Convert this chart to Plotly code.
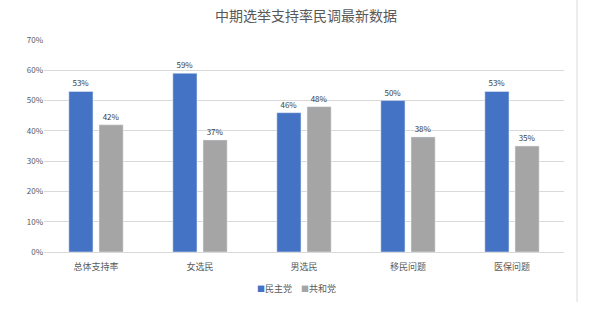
import plotly.graph_objects as go

categories = ["总体支持率", "女选民", "男选民", "移民问题", "医保问题"]
dem_values = [53, 59, 46, 50, 53]
rep_values = [42, 37, 48, 38, 35]
series_names = ["民主党", "共和党"]
series_colors = ["#4472C4", "#A5A5A5"]
y_ticks = [0, 10, 20, 30, 40, 50, 60, 70]
y_tick_labels = [f"{v}%" for v in y_ticks]

FONT = "Noto Sans CJK SC, Noto Sans, sans-serif"

fig = go.Figure()
for name, vals, col in zip(series_names, [dem_values, rep_values], series_colors):
    fig.add_trace(go.Bar(
        x=categories, y=vals, name=name,
        marker=dict(color=col),
        text=[f"{v}%" for v in vals], textposition="outside",
        textfont=dict(size=8, color="#404040", family=FONT),
        cliponaxis=False,
    ))

fig.update_layout(
    width=612, height=329,
    margin=dict(l=44, r=48, t=40, b=77),
    paper_bgcolor="white", plot_bgcolor="white",
    font=dict(family=FONT, color="#595959", size=9),
    title=dict(text="中期选举支持率民调最新数据", x=0.5, xanchor="center",
               y=0.952, yanchor="middle",
               font=dict(size=14, color="#595959", family=FONT)),
    barmode="group", bargap=0.42, bargroupgap=0.2,
    showlegend=False,
    uniformtext=dict(minsize=8, mode="show"),
)
fig.update_xaxes(showline=True, linecolor="#d9d9d9", linewidth=1,
                 ticks="", ticklabelstandoff=6, tickfont=dict(size=9, color="#595959"))
fig.update_yaxes(range=[0, 70], tickvals=y_ticks, ticktext=y_tick_labels,
                 showgrid=True, gridcolor="#d9d9d9", gridwidth=1,
                 zeroline=False, ticks="", ticklen=0,
                 tickfont=dict(size=8, color="#595959"))

# compact legend like the reference
legend_text = "\u2003".join(
    f'<span style="color:{c};font-size:8px">■</span>{n}'
    for n, c in zip(series_names, series_colors)
)
fig.add_annotation(text=legend_text, xref="paper", yref="paper",
                   x=0.485, y=-0.17, xanchor="center", yanchor="middle",
                   showarrow=False, font=dict(size=9, color="#595959", family=FONT))

# decorative chart border line at right, as in reference screenshot
fig.add_shape(type="line", xref="paper", yref="paper",
              x0=1.025, x1=1.025, y0=-0.235, y1=1.19,
              line=dict(color="#d9d9d9", width=1))

fig.write_html("out.html")
